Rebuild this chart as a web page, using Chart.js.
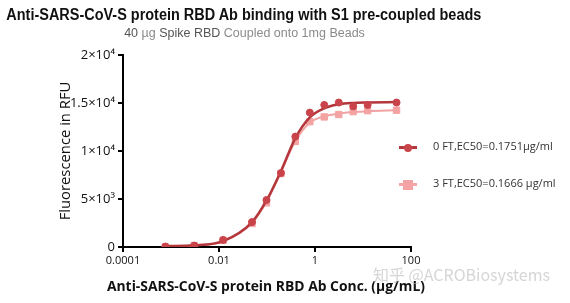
<!DOCTYPE html>
<html><head><meta charset="utf-8">
<script src="https://cdn.jsdelivr.net/npm/chart.js@4"></script>
<style>
body{margin:0;width:570px;height:303px;overflow:hidden;background:#fff;position:relative;font-family:"Liberation Sans",Arial,sans-serif}
#title{position:absolute;left:-41px;width:570px;top:6px;text-align:center;white-space:nowrap}
#title span{display:inline-block;font-weight:bold;font-size:16px;color:#111;transform-origin:center}
#sub{position:absolute;left:0;width:489px;top:26px;text-align:center;font-size:12.5px;color:#8a8a8a;white-space:nowrap}
#sub b{font-weight:normal;color:#555}
#xt{position:absolute;left:0;width:532px;top:276px;line-height:18px;text-align:center;white-space:nowrap}
#xt span{display:inline-block;font-family:"Open Sans",sans-serif;font-weight:bold;font-size:15px;color:#111;transform-origin:center}
#wrap{position:absolute;left:0;top:0;width:570px;height:303px}
.leg{position:absolute;left:399px;height:14px;font-family:"Open Sans",sans-serif;font-size:11px;color:#333;white-space:nowrap}
.leg .ln{position:absolute;left:0;top:6px;width:18px;height:3px}
.leg .mk{position:absolute}
.leg .tx{position:absolute;left:34px;top:-2px}
#wm{position:absolute;left:373px;top:263px;font-family:"Noto Sans CJK SC","Open Sans",sans-serif;font-size:16px;line-height:22px;color:rgba(185,185,185,0.6);white-space:nowrap}
</style></head>
<body>
<div id="wrap"><canvas id="c" width="570" height="303"></canvas></div>
<div id="title"><span id="tt">Anti-SARS-CoV-S protein RBD Ab binding with S1 pre-coupled beads</span></div>
<div id="sub"><b>40</b> µg <b>Spike RBD</b> Coupled onto 1mg Beads</div>
<div id="xt"><span id="xts">Anti-SARS-CoV-S protein RBD Ab Conc. (µg/mL)</span></div>
<div class="leg" style="top:140px"><div class="ln" style="background:#b8373c"></div><div class="mk" style="left:5px;top:3.5px;width:8px;height:8px;border-radius:50%;background:#c8454a"></div><div class="tx">0 FT,EC50=0.1751µg/ml</div></div>
<div class="leg" style="top:177px"><div class="ln" style="background:#f4a7a7"></div><div class="mk" style="left:4px;top:2.5px;width:10px;height:10px;background:#f3a3a3"></div><div class="tx">3 FT,EC50=0.1666 µg/ml</div></div>
<div id="wm">知乎 @ACROBiosystems</div>
<script>
// Concentrations (µg/mL)
const conc = [0.000763, 0.00305, 0.0122, 0.0488, 0.0977, 0.195, 0.39, 0.78, 1.56, 3.125, 6.25, 12.5, 50];
// Measured points
const ft0Points = [50, 150, 730, 2600, 4900, 7700, 11500, 14000, 14800, 15050, 14650, 14800, 15050];
const ft3Points = [0, 150, 700, 2450, 4600, 7650, 11000, 13050, 13550, 13800, 14100, 14200, 14250];
// Fitted curves (at the same concentrations)
const ft0Curve = [100, 180, 620, 2600, 4850, 7900, 11350, 13500, 14450, 14850, 15000, 15050, 15100];
const ft3Curve = [80, 160, 600, 2500, 4700, 7800, 11050, 12950, 13600, 13900, 14050, 14150, 14250];
const seriesNames = ['0 FT,EC50=0.1751µg/ml', '3 FT,EC50=0.1666 µg/ml'];
const xTickValues = [0.0001, 0.01, 1, 100];
const xTickLabels = ['0.0001', '0.01', '1', '100'];
const yTickValues = [0, 5000, 10000, 15000, 20000];
const yTickLabels = ['0', '5×10³', '1×10⁴', '1.5×10⁴', '2×10⁴'];

const pts = (ys) => conc.map((x, i) => ({x: x, y: ys[i]}));

// fit text widths to the reference
function fitWidth(id, target) {
  const el = document.getElementById(id);
  const w = el.getBoundingClientRect().width;
  el.style.transform = 'scaleX(' + (target / w) + ')';
}
fitWidth('tt', 475);
fitWidth('xts', 318);

new Chart(document.getElementById('c'), {
  type: 'scatter',
  data: {
    datasets: [
      {label: seriesNames[1] + ' fit', data: pts(ft3Curve), showLine: true, borderColor: '#f2a2a2', borderWidth: 2, pointRadius: 0, cubicInterpolationMode: 'monotone', order: 4},
      {label: seriesNames[1], data: pts(ft3Points), showLine: false, pointStyle: 'rect', pointRadius: 4.5, backgroundColor: '#f4a3a3', borderColor: '#f4a3a3', order: 3},
      {label: seriesNames[0] + ' fit', data: pts(ft0Curve), showLine: true, borderColor: '#b3363b', borderWidth: 2.5, pointRadius: 0, cubicInterpolationMode: 'monotone', order: 2},
      {label: seriesNames[0], data: pts(ft0Points), showLine: false, pointStyle: 'circle', pointRadius: 3.5, backgroundColor: '#c9444a', borderColor: '#c9444a', order: 1}
    ]
  },
  options: {
    responsive: false,
    animation: false,
    devicePixelRatio: 1,
    layout: {padding: {left: 54, top: 55, right: 159, bottom: 5}},
    plugins: {legend: {display: false}, tooltip: {enabled: false}},
    scales: {
      x: {
        type: 'logarithmic', min: 0.0001, max: 100,
        afterBuildTicks: (s) => { s.ticks = xTickValues.map(v => ({value: v})); },
        afterFit: (s) => { s.height = 303 - 5 - 247; },
        ticks: {callback: (v, i) => xTickLabels[i], color: '#111', font: {family: 'Open Sans', size: 11}, padding: 2, maxRotation: 0, autoSkip: false},
        grid: {drawOnChartArea: false, drawTicks: true, tickLength: 5, color: '#000', lineWidth: 2},
        border: {color: '#000', width: 2},
        title: {display: false}
      },
      y: {
        min: 0, max: 20000,
        afterBuildTicks: (s) => { s.ticks = yTickValues.map(v => ({value: v})); },
        afterFit: (s) => { s.width = 123 - 54; },
        ticks: {callback: (v, i) => yTickLabels[i], color: '#111', font: {family: 'Open Sans', size: 13}, padding: 3},
        grid: {drawOnChartArea: false, drawTicks: true, tickLength: 5, color: '#000', lineWidth: 2},
        border: {color: '#000', width: 2},
        title: {display: true, text: 'Fluorescence in RFU', color: '#111', font: {family: 'Open Sans', size: 14.8}, padding: {top: 3, bottom: 0}}
      }
    }
  }
});
</script>
</body></html>
